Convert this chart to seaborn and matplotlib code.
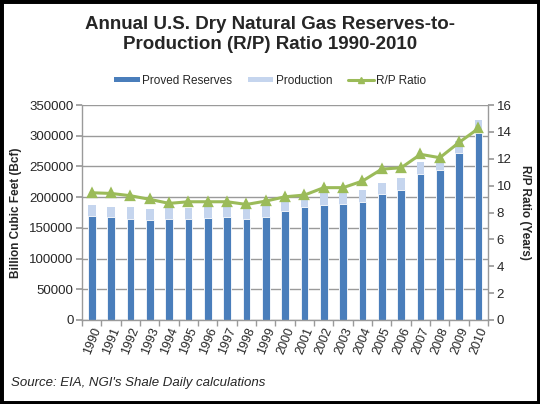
import matplotlib
matplotlib.use("Agg")
import matplotlib.pyplot as plt
import seaborn as sns
import numpy as np
import pandas as pd
from matplotlib.patches import Patch, Rectangle
from matplotlib.lines import Line2D
from matplotlib.ticker import FixedLocator

years = [str(y) for y in range(1990, 2011)]
proved_reserves = [169346, 167062, 165015, 162415, 163837, 165146, 166474, 167223, 164041, 167406,
                   177427, 183460, 186946, 189044, 192513, 204385, 211085, 237726, 244656, 272509, 304625]
production = [18000, 17300, 18200, 17600, 19200, 17300, 19800, 19000, 16200, 18800,
              18000, 15800, 19200, 21000, 18400, 19000, 19300, 20000, 13500, 19500, 21800]
rp_ratio = [9.47, 9.42, 9.25, 8.98, 8.68, 8.80, 8.80, 8.80, 8.60, 8.85,
            9.17, 9.30, 9.85, 9.85, 10.34, 11.23, 11.33, 12.33, 12.08, 13.22, 14.26]
left_ticks = [0, 50000, 100000, 150000, 200000, 250000, 300000, 350000]
right_ticks = [0, 2, 4, 6, 8, 10, 12, 14, 16]

df = pd.DataFrame({"year": years, "reserves": proved_reserves, "production": production, "rp": rp_ratio})
df["total"] = df["reserves"] + df["production"]

sns.set_theme(style="white")
plt.rcParams["font.family"] = ["Liberation Sans", "DejaVu Sans"]

dark = "#4A7EBB"
light = "#C5D5EE"
green = "#9BBB59"
grid = "#9A9A9A"

fig = plt.figure(figsize=(5.4, 4.04), dpi=100)
fig.patch.set_facecolor("white")
ax = fig.add_axes([0.152, 0.208, 0.752, 0.532])

sns.barplot(data=df, x="year", y="total", color=light, width=0.4, ax=ax,
            saturation=1, edgecolor="none", linewidth=0)
sns.barplot(data=df, x="year", y="reserves", color=dark, width=0.4, ax=ax,
            saturation=1, edgecolor="white", linewidth=0.6)

ax.set_ylim(0, 350000)
ax.set_yticks(left_ticks)
ax.set_yticklabels([str(t) for t in left_ticks], fontsize=9.5)
ax.yaxis.grid(True, color=grid, linewidth=1.0)
ax.set_axisbelow(True)
ax.set_xlim(-0.5, len(years) - 0.5)
ax.set_xlabel("")
ax.set_ylabel("Billion Cubic Feet (Bcf)", fontsize=8.5, fontweight="bold", labelpad=5)
ax.set_xticks(range(len(years)))
ax.set_xticklabels(years, rotation=68, fontsize=9, ha="right", rotation_mode="anchor")
ax.tick_params(axis="x", which="major", length=0, pad=4)
ax.xaxis.set_minor_locator(FixedLocator(np.arange(-0.5, len(years), 1.0)))
ax.tick_params(axis="x", which="minor", length=4, color=grid, direction="out", bottom=True)
ax.tick_params(axis="y", length=4, color=grid, direction="out", left=True, pad=2)
for s in ["top", "right"]:
    ax.spines[s].set_visible(False)
for s in ["left", "bottom"]:
    ax.spines[s].set_color(grid)
    ax.spines[s].set_linewidth(1.0)

ax2 = ax.twinx()
sns.pointplot(data=df, x="year", y="rp", ax=ax2, color=green, markers="^",
              linewidth=2.2, markersize=6)
ax2.set_ylim(0, 16)
ax2.set_xlim(-0.5, len(years) - 0.5)
ax2.set_yticks(right_ticks)
ax2.set_yticklabels([str(t) for t in right_ticks], fontsize=9.5)
ax2.set_ylabel("R/P Ratio (Years)", fontsize=8.5, fontweight="bold", rotation=270, labelpad=14)
ax2.tick_params(axis="y", length=4, color=grid, direction="out", right=True, pad=2)
for s in ["top", "left", "bottom"]:
    ax2.spines[s].set_visible(False)
ax2.spines["right"].set_color(grid)
ax2.spines["right"].set_linewidth(1.0)

fig.text(0.5, 0.915, "Annual U.S. Dry Natural Gas Reserves-to-\nProduction (R/P) Ratio 1990-2010",
         ha="center", va="center", fontsize=13.5, fontweight="bold", linespacing=1.2)

handles = [Patch(facecolor=dark, edgecolor="none"),
           Patch(facecolor=light, edgecolor="none"),
           Line2D([0], [0], color=green, linewidth=2.2, marker="^", markersize=5)]
fig.legend(handles, ["Proved Reserves", "Production", "R/P Ratio"], loc="center",
           bbox_to_anchor=(0.5, 0.80), ncol=3, frameon=False, fontsize=8.5,
           handlelength=2.2, handleheight=0.35, handletextpad=0.2, columnspacing=1.3)

fig.text(0.02, 0.052, "Source: EIA, NGI's Shale Daily calculations", fontsize=9.5,
         fontstyle="italic", ha="left", va="center")

fig.add_artist(Rectangle((0, 0), 1, 1, transform=fig.transFigure, fill=False,
                         edgecolor="black", linewidth=5, clip_on=False))

fig.savefig("out.png", dpi=100, facecolor="white")
